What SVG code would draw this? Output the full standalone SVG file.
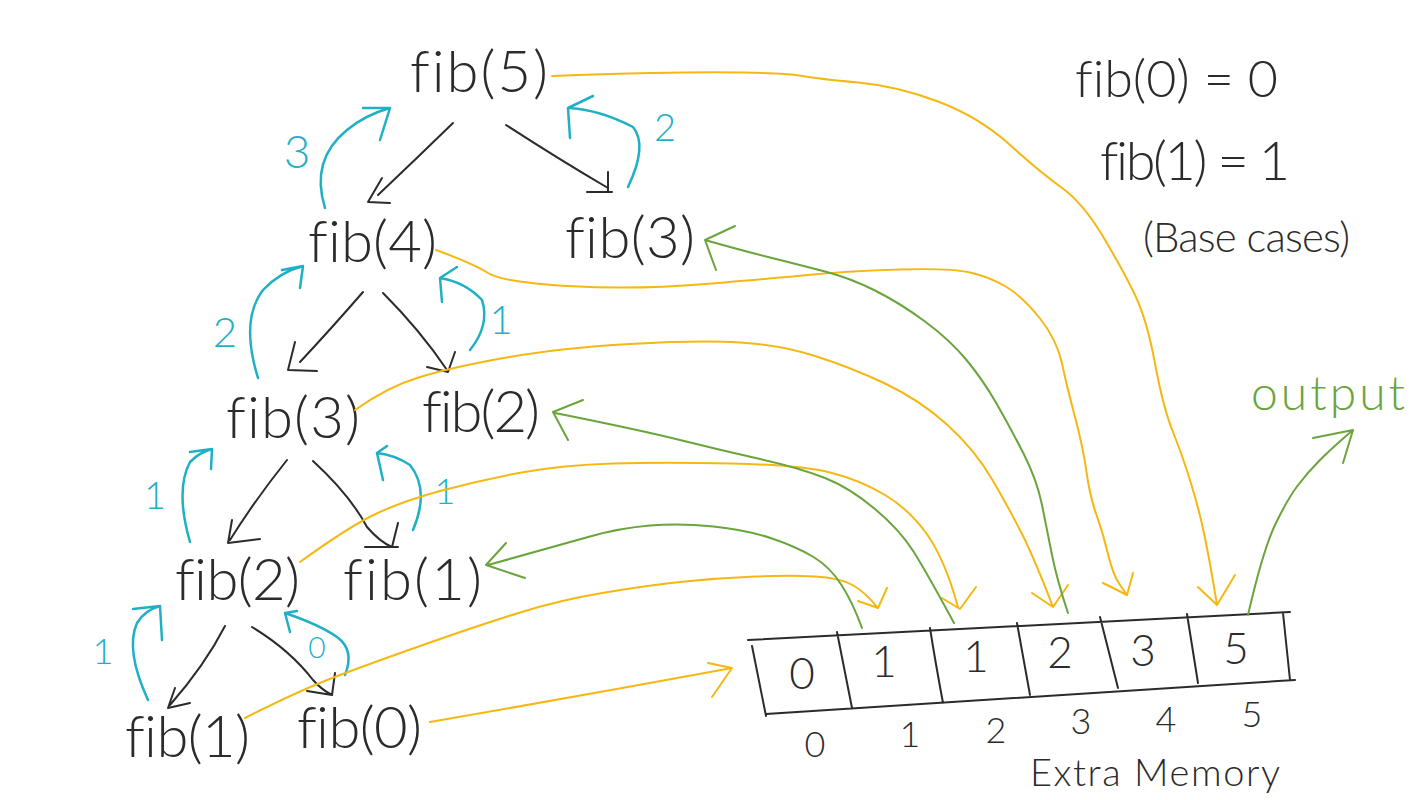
<svg xmlns="http://www.w3.org/2000/svg" width="1422" height="800" viewBox="0 0 1422 800">
<style>
text{font-variant-ligatures:none;font-feature-settings:"liga" 0}
.t{font-family:Lato,"Liberation Sans",sans-serif;font-weight:300;fill:#2b2b2b}
.n{font-size:58px}
.c{font-family:Lato,"Liberation Sans",sans-serif;font-weight:300;fill:#1fb0c6}
.g{font-family:Lato,"Liberation Sans",sans-serif;font-weight:300;fill:#6aa43c}
.k{fill:none;stroke:#2b2b2b;stroke-width:2;stroke-linecap:round;stroke-linejoin:round}
.cy{fill:none;stroke:#1fb0c6;stroke-width:2.5;stroke-linecap:round;stroke-linejoin:round}
.y{fill:none;stroke:#f5b813;stroke-width:2;stroke-linecap:round;stroke-linejoin:round}
.gr{fill:none;stroke:#6aa43c;stroke-width:2;stroke-linecap:round;stroke-linejoin:round}
</style>
<rect width="1422" height="800" fill="#fff"/>

<g id="fib5"><text class="t n" x="410" y="92" textLength="138">fib(5)</text></g>
<g id="fib4"><text class="t n" x="308" y="262" textLength="129">fib(4)</text></g>
<g id="fib3r"><text class="t n" x="565" y="258" textLength="130">fib(3)</text></g>
<g id="fib3l"><text class="t n" x="226" y="438" textLength="134">fib(3)</text></g>
<g id="fib2r"><text class="t n" x="422" y="432" textLength="118">fib(2)</text></g>
<g id="fib2l"><text class="t n" x="175" y="600" textLength="125">fib(2)</text></g>
<g id="fib1m"><text class="t n" x="343" y="600" textLength="139">fib(1)</text></g>
<g id="fib1b"><text class="t n" x="125" y="757" textLength="125">fib(1)</text></g>
<g id="fib0"><text class="t n" x="297" y="748" textLength="125">fib(0)</text></g>

<g id="basecases">
<text class="t" x="1075" y="97" font-size="52" textLength="203">fib(0) = 0</text>
<text class="t" x="1100" y="180" font-size="54" textLength="190">fib(1) = 1</text>
<text class="t" x="1143" y="252" font-size="42" textLength="207">(Base cases)</text>
</g>
<g id="output"><text class="g" x="1251" y="410" font-size="48" textLength="154">output</text></g>

<g id="memory">
<path class="k" d="M748,640 L1290,612 M752,646 L766,716 M766,714 L1295,680 M1283,613 L1290,680 M837,632 L852,708 M930,628 Q935,660 943,703 M1017,623 L1030,695 M1100,617 L1118,688 M1187,614 L1198,683"/>
<g class="t" font-size="44" text-anchor="middle">
<text x="802" y="689">0</text>
<text x="884" y="677">1</text>
<text x="976" y="672">1</text>
<text x="1060" y="668">2</text>
<text x="1143" y="666">3</text>
<text x="1236" y="664">5</text>
</g>
<g class="t" font-size="36" text-anchor="middle">
<text x="815" y="757">0</text>
<text x="910" y="747">1</text>
<text x="996" y="743">2</text>
<text x="1081" y="734">3</text>
<text x="1166" y="732">4</text>
<text x="1252" y="727">5</text>
</g>
<text class="t" x="1030" y="786" font-size="38" textLength="250">Extra Memory</text>
</g>

<g id="connectors">
<g id="calls">
<path class="k" d="M453,123 Q415,160 378,195 M382,178 L368,202 L390,203"/>
<path class="k" d="M506,125 Q560,160 608,188 M587,192 L612,192 M608,172 L608,192"/>
<path class="k" d="M363,292 Q330,330 300,362 M295,342 L288,370 L317,371"/>
<path class="k" d="M383,293 Q420,330 447,370 M427,367 L448,372 L455,352"/>
<path class="k" d="M287,460 Q255,500 230,540 M232,520 L228,543 L260,539"/>
<path class="k" d="M313,461 Q350,495 367,527 Q380,542 392,547 M398,523 L392,547 M365,547 L398,547"/>
<path class="k" d="M225,626 Q205,665 170,705 M175,688 L168,708 L190,703"/>
<path class="k" d="M252,627 Q290,650 313,680 Q322,690 332,695 M307,691 L332,695 L335,673"/>
</g>
<g id="returns">
<path class="cy" d="M325,208 Q310,160 347,130 Q365,115 390,108 M363,108 L390,108 L380,140"/>
<path class="cy" d="M628,187 Q648,145 633,127 Q600,110 570,108 M593,96 L568,108 L570,138"/>
<path class="cy" d="M258,378 Q240,320 263,290 Q280,272 303,266 M282,270 L303,266 L300,288"/>
<path class="cy" d="M470,350 Q490,325 482,300 Q465,282 440,278 M457,267 L440,278 L442,302"/>
<path class="cy" d="M190,542 Q175,490 190,462 Q200,452 212,449 M190,452 L212,449 L211,469"/>
<path class="cy" d="M413,530 Q430,490 410,465 Q395,455 377,453 M387,446 L377,453 L383,480"/>
<path class="cy" d="M148,700 Q125,650 137,623 Q145,610 160,606 M133,609 L160,606 L162,640"/>
<path class="cy" d="M345,675 Q355,650 337,637 Q320,625 285,613 M297,611 L285,613 L290,632"/>
<g class="c" text-anchor="middle">
<text x="297" y="168" font-size="46">3</text>
<text x="665" y="141" font-size="38">2</text>
<text x="225" y="347" font-size="42">2</text>
<text x="501" y="334" font-size="40">1</text>
<text x="155" y="509" font-size="38">1</text>
<text x="445" y="504" font-size="36">1</text>
<text x="103" y="664" font-size="36">1</text>
<text x="317" y="658" font-size="30">0</text>
</g>
</g>
<g id="stores">
<path class="y" d="M552,76 Q604,74 652,73 Q700,72 743,72.5 Q786,73 802.5,76 Q819,79 858,82.5 Q897,86 938,101.5 Q979,117 1009.5,144.5 Q1040,172 1061.5,187.5 Q1083,203 1103,236.5 Q1123,270 1135,295 Q1147,320 1155,363.5 Q1163,407 1173,432 Q1183,457 1191.5,485 Q1200,513 1205,538 Q1210,563 1213.5,584 L1217,605 M1198,587 L1217,605 L1235,575"/>
<path class="y" d="M436,250 Q474,264 488,273 Q502,282 568,286 Q634,290 705.5,284 Q777,278 813,274.5 Q849,271 899.5,269.5 Q950,268 970,272.5 Q990,277 1006.5,287 Q1023,297 1040,318.5 Q1057,340 1062,363.5 Q1067,387 1075,417 Q1083,447 1086.5,472 Q1090,497 1096.5,515 Q1103,533 1108,554 Q1113,575 1120,585 L1127,595 M1103,583 L1127,595 L1133,573"/>
<path class="y" d="M355,410 Q387,387 420,377 Q453,367 506.5,357.5 Q560,348 630,344 Q700,340 740,342.5 Q780,345 815,356 Q850,367 885,383.5 Q920,400 947.5,425 Q975,450 992.5,480 Q1010,510 1022.5,535 Q1035,560 1053,607 M1032,593 L1053,607 L1068,585"/>
<path class="y" d="M300,562 Q347,528 373.5,515 Q400,502 440,491 Q480,480 521.5,472.5 Q563,465 613,463.5 Q663,462 731.5,463.5 Q800,465 830,472.5 Q860,480 885,495 Q910,510 927.5,535 Q945,560 958,607 M942,598 L960,609 L976,587"/>
<path class="y" d="M245,718 Q300,690 340,675 Q380,660 430,642.5 Q480,625 520,612.5 Q560,600 605,592.5 Q650,585 685,581.5 Q720,578 755,576.5 Q790,575 815,576.5 Q840,578 852.5,585 Q865,592 878,608 M858,601 L878,608 L887,588"/>
<path class="y" d="M430,722 Q580,696 732,668 M708,663 L732,668 L712,697"/>
</g>
<g id="reads">
<path class="gr" d="M862,628 Q853,603 841.5,585 Q830,567 813.5,557 Q797,547 772,538.5 Q747,530 713.5,526.5 Q680,523 650,525.5 Q620,528 590,536.5 Q560,545 488,565 M506,543 L486,565 L525,578"/>
<path class="gr" d="M954,623 Q927,573 913.5,551.5 Q900,530 875,509 Q850,488 825,478 Q800,468 760,459 Q720,450 680,440 Q640,430 555,413 M583,400 L553,412 L568,440"/>
<path class="gr" d="M1068,613 Q1057,580 1052,555 Q1047,530 1042,505 Q1037,480 1023.5,453.5 Q1010,427 996.5,403.5 Q983,380 966.5,360 Q950,340 925,321.5 Q900,303 875,290.5 Q850,278 825,271.5 Q800,265 770,257.5 Q740,250 705,240 M735,226 L705,240 L716,270"/>
<path class="gr" d="M1248,615 Q1263,550 1275,525 Q1287,500 1297,486.5 Q1307,473 1320,460 Q1333,447 1353,430 M1313,438 L1353,430 L1343,463"/>
</g>
</g>
</svg>
